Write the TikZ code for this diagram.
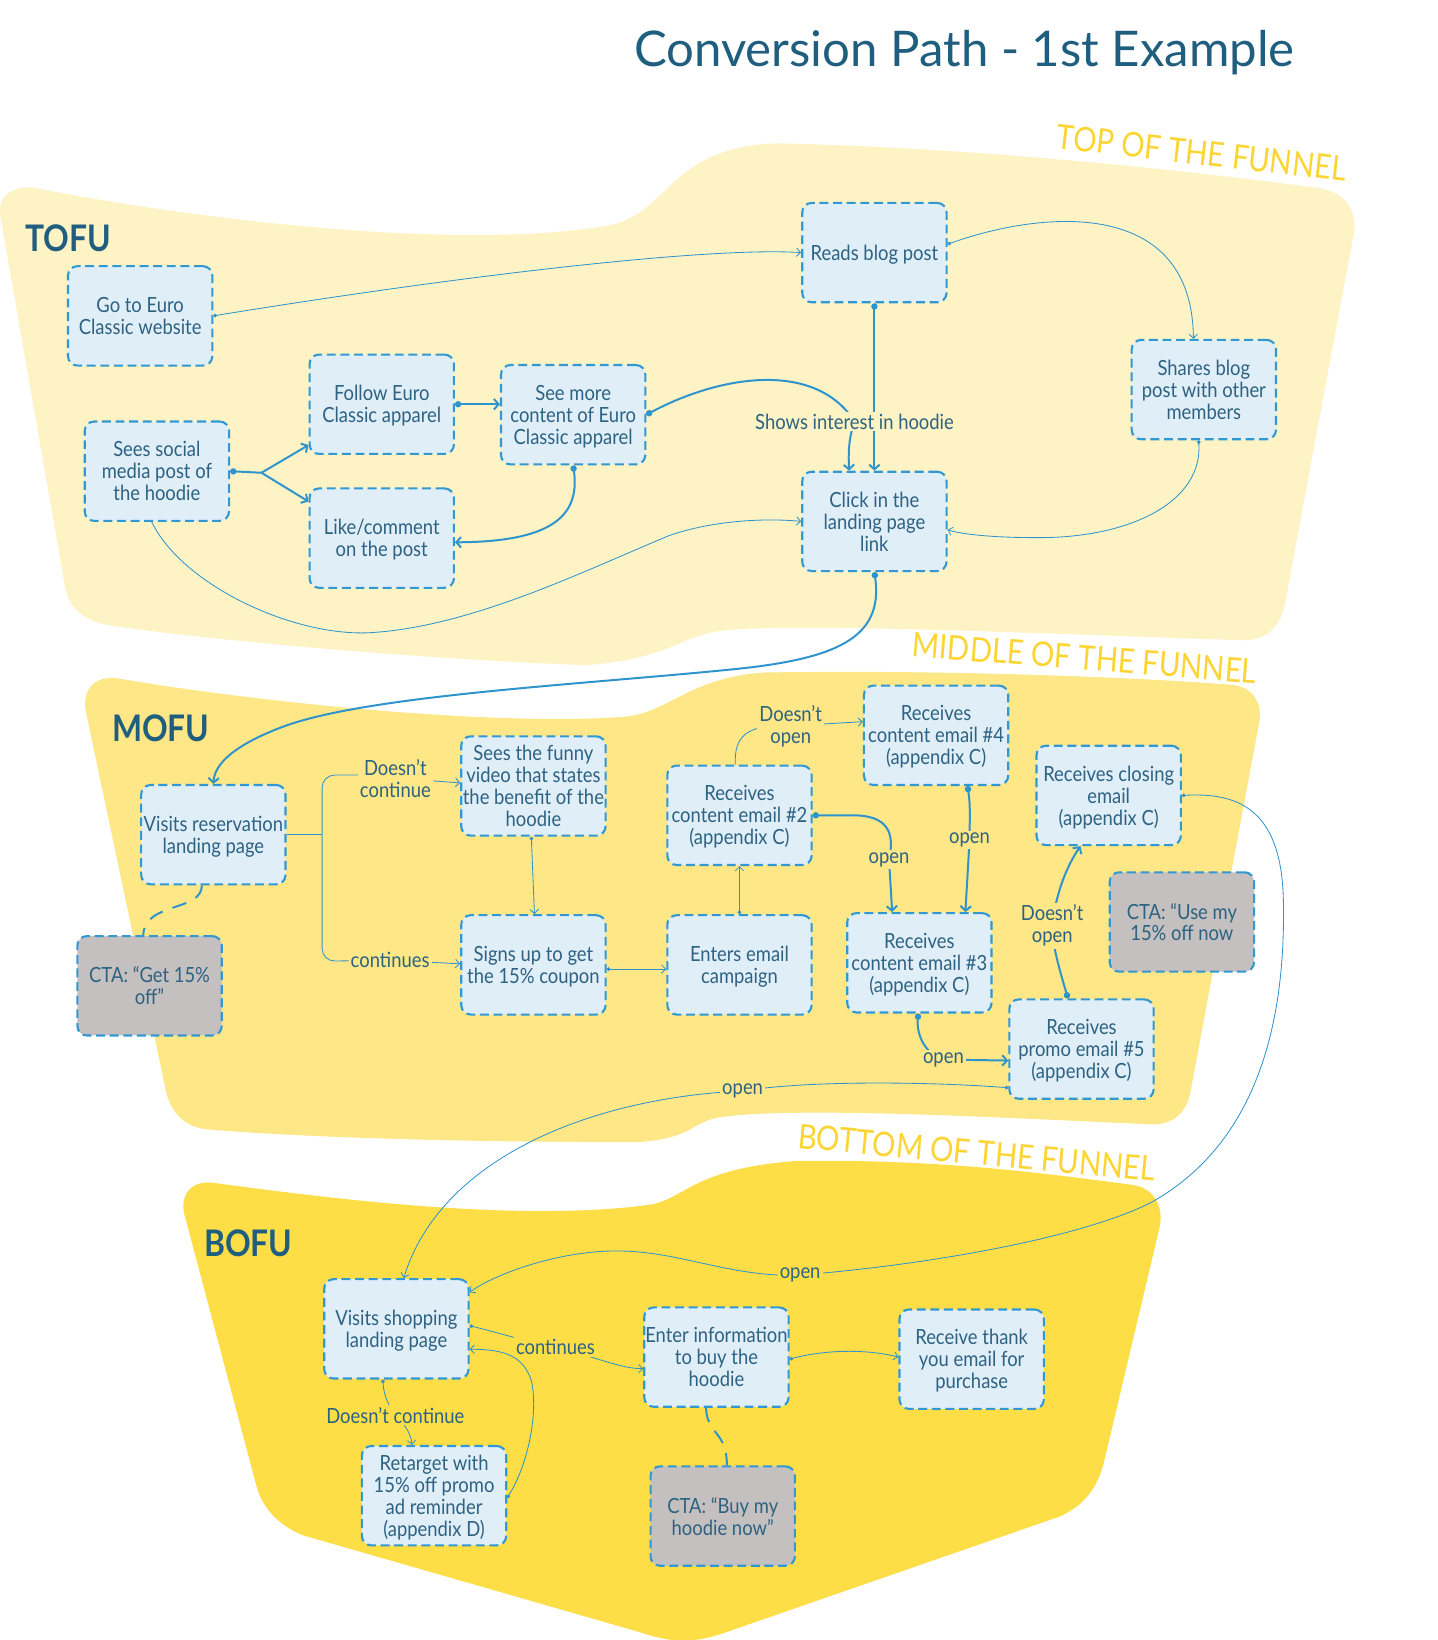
\documentclass[tikz,border=0pt]{standalone}
\usepackage{fontspec}
\setmainfont{Lato}
\newfontfamily\nodefont{Lato}[FakeStretch=0.88]
\newfontfamily\titlefont{Lato}
\newfontfamily\headfont{Lato}[FakeStretch=0.87]
\newfontfamily\funfont{Lato}[FakeStretch=0.86]
\usetikzlibrary{arrows.meta,calc}
\definecolor{tofuc}{HTML}{FEF3C4}
\definecolor{mofuc}{HTML}{FDE786}
\definecolor{bofuc}{HTML}{FDDE47}
\definecolor{boxfill}{HTML}{E0EEF8}
\definecolor{boxline}{HTML}{3298D2}
\definecolor{conn}{HTML}{2F94CE}
\definecolor{txt}{HTML}{2D6282}
\definecolor{ttl}{HTML}{1F5E7E}
\definecolor{ctag}{HTML}{C4C0BF}
\definecolor{funy}{HTML}{FCD535}
\pgfdeclarelayer{bg}
\pgfdeclarelayer{fg}
\pgfsetlayers{bg,main,fg}
\tikzset{
  box/.style={draw=boxline, fill=boxfill, dash pattern=on 8.5pt off 4.5pt, line width=2pt,
    rounded corners=9pt, minimum width=138pt, minimum height=95pt, inner sep=0pt,
    text depth=0pt, align=center, text=txt, font=\nodefont\fontsize{20}{21}\selectfont},
  ctabox/.style={box, fill=ctag},
  elab/.style={text=txt, font=\nodefont\fontsize{20}{21}\selectfont, inner sep=2pt, align=center},
  elabT/.style={elab, fill=tofuc},
  elabM/.style={elab, fill=mofuc},
  elabB/.style={elab, fill=bofuc},
  thk/.style={draw=conn, line width=1.9pt},
  thn/.style={draw=conn, line width=0.8pt},
  thkar/.style={thk, -{Straight Barb[length=4.5pt,width=10pt]}},
  thkdotar/.style={thk, {Circle[length=6pt]}-{Straight Barb[length=4.5pt,width=10pt]}},
  thkdot/.style={thk, {Circle[length=6pt]}-},
  thnar/.style={thn, -{Straight Barb[length=4pt,width=8pt]}},
  thndotar/.style={thn, {Circle[length=3.5pt]}-{Straight Barb[length=4pt,width=8pt]}},
  thndot/.style={thn, {Circle[length=3.5pt]}-},
  ctalink/.style={thk, dash pattern=on 14pt off 10pt},
  funlbl/.style={font=\funfont\fontsize{32.5}{34}\selectfont, text=funy, inner sep=0pt},
  headlbl/.style={font=\headfont\bfseries\fontsize{35}{40}\selectfont, text=ttl, anchor=west, inner sep=0pt},
}
\begin{document}
\begin{tikzpicture}[x=1pt,y=-1pt]
\useasboundingbox (0,0) rectangle (1374,1568);

% ---------------- blobs
\begin{pgfonlayer}{bg}
\fill[tofuc] (0,205) .. controls (-2,185) and (15,175) .. (40,181)
  .. controls (200,212) and (450,240) .. (585,215)
  .. controls (640,202) and (640,142) .. (740,137)
  .. controls (900,140) and (1100,158) .. (1262,180)
  .. controls (1290,185) and (1298,205) .. (1294,225)
  -- (1228,580)
  .. controls (1222,605) and (1205,613) .. (1185,612)
  .. controls (1000,606) and (760,595) .. (690,603)
  .. controls (650,608) and (640,630) .. (560,636)
  .. controls (400,630) and (200,612) .. (105,598)
  .. controls (80,594) and (65,580) .. (62,560)
  -- cycle;
\fill[mofuc] (82,680) .. controls (78,655) and (95,645) .. (115,649)
  .. controls (250,672) and (480,695) .. (600,685)
  .. controls (640,680) and (660,648) .. (730,643)
  .. controls (900,640) and (1100,648) .. (1180,655)
  .. controls (1200,658) and (1207,675) .. (1204,690)
  -- (1138,1045)
  .. controls (1134,1065) and (1120,1076) .. (1100,1075)
  .. controls (950,1068) and (760,1058) .. (690,1068)
  .. controls (660,1072) and (665,1088) .. (610,1092)
  .. controls (450,1092) and (300,1088) .. (200,1080)
  .. controls (175,1078) and (162,1062) .. (158,1040)
  -- cycle;
\fill[bofuc] (176,1160) .. controls (172,1140) and (185,1128) .. (205,1131)
  .. controls (330,1148) and (500,1168) .. (620,1152)
  .. controls (655,1147) and (660,1118) .. (760,1110)
  .. controls (900,1108) and (1000,1122) .. (1084,1133)
  .. controls (1105,1137) and (1112,1155) .. (1109,1172)
  -- (1055,1400)
  .. controls (1048,1425) and (1035,1440) .. (1013,1450)
  -- (690,1562)
  .. controls (660,1572) and (640,1570) .. (610,1560)
  -- (290,1468)
  .. controls (265,1458) and (250,1440) .. (245,1420)
  -- cycle;
\end{pgfonlayer}

% ---------------- texts, boxes, labels
\begin{pgfonlayer}{fg}
\node[font=\titlefont\fontsize{47}{50}\selectfont, text=ttl, inner sep=0pt] (title) at (922,50) {Conversion Path - 1st Example};
\node[funlbl, rotate=-6.5] (toplbl) at (1149,146) {TOP OF THE FUNNEL};
\node[funlbl, rotate=-4.5] (midlbl) at (1037,629) {MIDDLE OF THE FUNNEL};
\node[funlbl, rotate=-5.3] (botlbl) at (934,1102) {BOTTOM OF THE FUNNEL};
\node[headlbl] (tofuh) at (24,228) {TOFU};
\node[headlbl] (mofuh) at (107,696) {MOFU};
\node[headlbl] (bofuh) at (195,1189) {BOFU};

% TOFU
\node[box] (goto) at (134,302) {Go to Euro\\Classic website};
\node[box] (sees) at (150,450.5) {Sees social\\media post of\\the hoodie};
\node[box] (follow) at (365,386.5) {Follow Euro\\Classic apparel};
\node[box] (like) at (365,514.5) {Like/comment\\on the post};
\node[box] (seemore) at (548,396.5) {See more\\content of Euro\\Classic apparel};
\node[box] (reads) at (836,241.5) {Reads blog post};
\node[box] (click) at (836,498.5) {Click in the\\landing page\\link};
\node[box] (shares) at (1151,372.5) {Shares blog\\post with other\\members};
% MOFU
\node[box] (visits) at (204,798) {Visits reservation\\landing page};
\node[ctabox] (cta1) at (143,942.5) {CTA: “Get 15\%\\off”};
\node[box] (funny) at (510,751.5) {Sees the funny\\video that states\\the benefit of the\\hoodie};
\node[box] (signs) at (510,922.5) {Signs up to get\\the 15\% coupon};
\node[box] (enters) at (707,922.5) {Enters email\\campaign};
\node[box] (email2) at (707,779.5) {Receives\\content email \#2\\(appendix C)};
\node[box] (email4) at (895,703) {Receives\\content email \#4\\(appendix C)};
\node[box] (email3) at (879,920.5) {Receives\\content email \#3\\(appendix C)};
\node[box] (closing) at (1060,760.5) {Receives closing\\email\\(appendix C)};
\node[ctabox] (cta2) at (1130,881.5) {CTA: “Use my\\15\% off now};
\node[box] (email5) at (1034,1003) {Receives\\promo email \#5\\(appendix C)};
% BOFU
\node[box] (shop) at (379,1270.5) {Visits shopping\\landing page};
\node[box] (retarget) at (415,1430) {Retarget with\\15\% off promo\\ad reminder\\(appendix D)};
\node[box] (enterinfo) at (685,1297.5) {Enter information\\to buy the\\hoodie};
\node[ctabox] (cta3) at (691,1449.5) {CTA: “Buy my\\hoodie now”};
\node[box] (thanks) at (929,1299.5) {Receive thank\\you email for\\purchase};

% edge labels
\node[elabT] (lshows) at (817,403) {Shows interest in hoodie};
\node[elabM] (ldc) at (378,744) {Doesn’t\\continue};
\node[elabM] (lcont) at (373,918) {continues};
\node[elabM] (ldo1) at (756,694) {Doesn’t\\open};
\node[elabM] (lopen1) at (850,822) {open};
\node[elabM] (lopen2) at (927,803) {open};
\node[elabM] (ldo2) at (1006,885) {Doesn’t\\open};
\node[elabM] (lopen3) at (902,1013) {open};
\node[elabM] (lopen4) at (710,1043) {open};
\node[elabB] (lopen5) at (765,1219) {open};
\node[elabB] (lcont2) at (531,1288) {continues};
\node[elabB] (ldc2) at (378,1353) {Doesn’t continue};
\end{pgfonlayer}

% ---------------- connectors (TOFU)
\draw[thndotar] (goto.east) .. controls (450,262) and (680,236) .. (reads.west);
\draw[thndotar] ($(reads.east)+(0,-8)$) .. controls (1000,200) and (1140,190) .. ($(shares.north)+(-10,0)$);
\draw[thkdotar] (reads.south) -- (click.north);
\draw[thkdotar] (seemore.east) .. controls (690,358) and (780,345) .. (lshows.center)
   .. controls (811,420) and (811,435) .. ($(click.north)+(-24,0)$);
\coordinate (fork) at (250,452);
\draw[thkdot] (sees.east) -- (fork);
\draw[thkar] (fork) -- ($(follow.west)+(0,39)$);
\draw[thkar] (fork) -- ($(like.west)+(0,-35)$);
\draw[thkdotar] (follow.east) -- (follow.east -| seemore.west);
\draw[thkdotar] (seemore.south) .. controls (555,495) and (525,518) .. ($(like.east)+(0,4)$);
\draw[thnar] ($(sees.south)+(-5,0)$) .. controls (175,560) and (280,608) .. (352,605)
   .. controls (450,600) and (560,545) .. (640,512)
   .. controls (680,498) and (730,495) .. (click.west);
\draw[thndotar] ($(shares.south)+(-5,0)$) .. controls (1150,480) and (1080,515) .. (990,514)
   .. controls (950,514) and (920,511) .. ($(click.east)+(0,8)$);
\draw[thkdotar] (click.south) .. controls (845,610) and (800,630) .. (700,640)
   .. controls (550,655) and (350,665) .. (270,695)
   .. controls (225,712) and (205,730) .. (visits.north);

% ---------------- connectors (MOFU)
\coordinate (jn) at (308,798);
\draw[thn] (visits.east) -- (jn);
\draw[thnar, rounded corners=12pt] (jn) -- (308,741) -- (ldc.center |- 0,741) [sharp corners] -- (ldc.center) -- ($(funny.west)+(0,-3)$);
\draw[thnar, rounded corners=12pt] (jn) -- (308,919) -- (lcont.center) [sharp corners] -- ($(signs.west)+(0,-1)$);
\draw[ctalink] ($(visits.south)+(-11,0)$) .. controls (193,872) and (138,862) .. ($(cta1.north)+(-6,0)$);
\draw[thndotar] ($(funny.south)+(-2,0)$) -- ($(signs.north)+(1,0)$);
\draw[thndotar] ($(signs.east)+(0,4)$) -- ($(enters.west)+(0,4)$);
\draw[thndotar] (enters.north) -- (email2.south);
\draw[thnar] ($(email2.north)+(-4,0)$) .. controls (702,705) and (712,692) .. (ldo1.center) -- ($(email4.west)+(0,-13)$);
\draw[thkdotar] (email2.east) -- (815,779.5) .. controls (848,779.5) and (856,795) .. (lopen1.center) -- ($(email3.north)+(-26,0)$);
\draw[thkdotar] ($(email4.south)+(30,0)$) .. controls (928,770) and (927,785) .. (lopen2.center) -- ($(email3.north)+(44,0)$);
\draw[thkdotar] ($(email3.south)+(-1,0)$) .. controls (876,990) and (885,1008) .. (lopen3.center) -- ($(email5.west)+(0,11)$);
\draw[thkdotar] ($(email5.north)+(-13,0)$) .. controls (1014,930) and (1006,905) .. (ldo2.center)
   .. controls (1010,850) and (1022,825) .. ($(closing.south)+(-27,0)$);
\draw[thndotar] ($(email5.west)+(0,37)$) .. controls (900,1035) and (780,1032) .. (lopen4.center)
   .. controls (560,1050) and (420,1110) .. ($(shop.north)+(7,0)$);
\draw[thndotar] (closing.east) .. controls (1180,758) and (1225,770) .. (1227,860)
   .. controls (1230,1000) and (1190,1100) .. (1100,1150)
   .. controls (1030,1185) and (880,1210) .. (lopen5.center)
   .. controls (700,1222) and (650,1196) .. (590,1196)
   .. controls (530,1196) and (470,1220) .. ($(shop.east)+(0,-35)$);

% ---------------- connectors (BOFU)
\draw[thndotar] ($(shop.east)+(0,-3)$) .. controls (480,1275) and (500,1282) .. (lcont2.center)
   .. controls (565,1296) and (595,1309) .. ($(enterinfo.west)+(0,11)$);
\draw[thndotar] ($(shop.south)+(-13,0)$) .. controls (367,1335) and (372,1345) .. (ldc2.center)
   .. controls (388,1362) and (393,1372) .. ($(retarget.north)+(-21,0)$);
\draw[thndotar] ($(retarget.east)+(0,2)$) .. controls (505,1400) and (515,1350) .. (508,1320)
   .. controls (500,1295) and (480,1290) .. ($(shop.east)+(0,19.5)$);
\draw[thndotar] ($(enterinfo.east)+(0,2)$) .. controls (790,1290) and (830,1290) .. ($(thanks.west)+(0,-2)$);
\draw[ctalink] ($(enterinfo.south)+(-10,0)$) .. controls (676,1372) and (695,1368) .. ($(cta3.north)+(4,0)$);
\end{tikzpicture}
\end{document}
